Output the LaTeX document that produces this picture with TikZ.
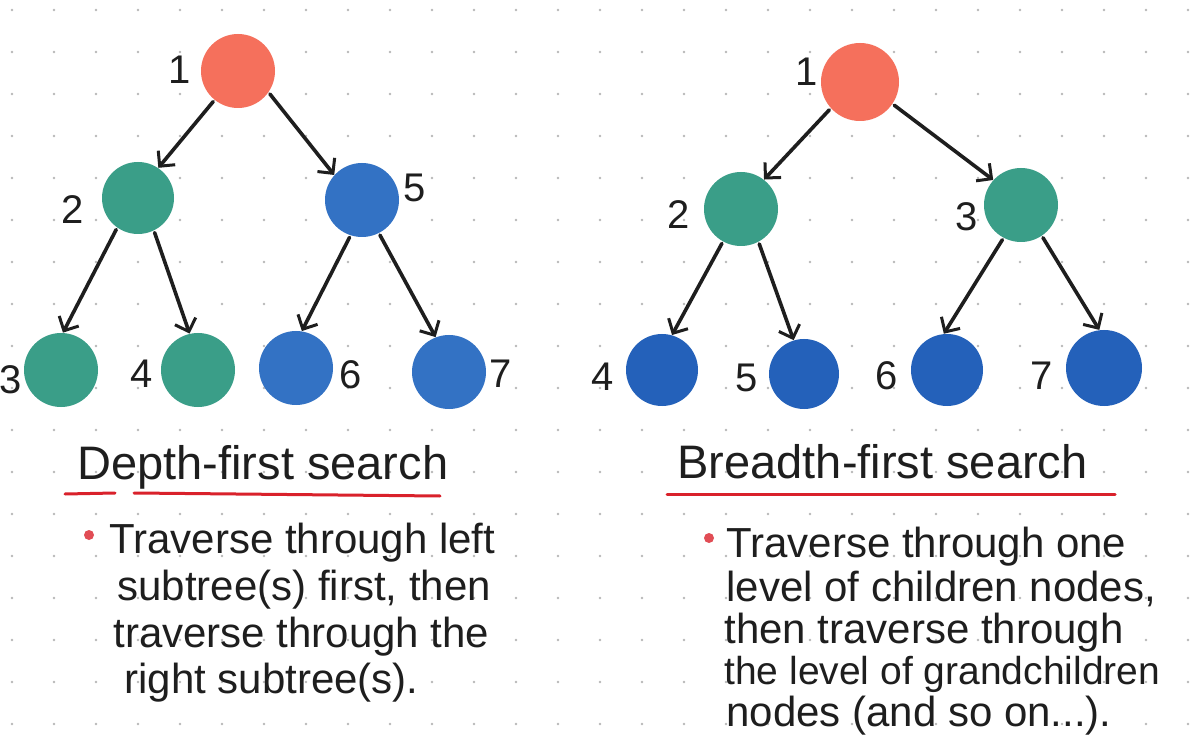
\documentclass[tikz,border=0pt]{standalone}
\usepackage{fontspec}
\setmainfont{Liberation Sans}
\usetikzlibrary{arrows.meta}
\definecolor{nred}{HTML}{F5705C}
\definecolor{ngreen}{HTML}{3A9E88}
\definecolor{nblue}{HTML}{3372C4}
\definecolor{nbluedk}{HTML}{2461BA}
\definecolor{ulred}{HTML}{D9212B}
\definecolor{gdot}{HTML}{B8B8B8}
\definecolor{ink}{HTML}{1E1E1E}
\begin{document}
\begin{tikzpicture}[x=0.5pt,y=-0.5pt,
  tnode/.style={circle,inner sep=0pt,minimum size=36pt},
  rednode/.style={tnode,fill=nred},
  greennode/.style={tnode,fill=ngreen},
  bluenode/.style={tnode,fill=nblue},
  bluedk/.style={tnode,fill=nbluedk},
  num/.style={font=\fontsize{20}{20}\selectfont,inner sep=0pt,text=ink},
  arr/.style={draw=ink,line width=1.8pt,line cap=round,-{Straight Barb[length=5.5pt,width=11pt,line width=1.5pt]},shorten <=1pt},
  body/.style={anchor=base west,inner sep=0pt,font=\fontsize{21}{21}\selectfont,text=ink},
  titlet/.style={anchor=base west,inner sep=0pt,font=\fontsize{23.5}{23.5}\selectfont,text=ink},
  uline/.style={draw=ulred,line width=1.5pt,line cap=round},
  bullet/.style={circle,fill=ulred!80!white,inner sep=0pt,minimum size=5pt}
]
\fill[white] (0,0) rectangle (1200,754);
\useasboundingbox (0,0) rectangle (1200,754);
% dot grid
\foreach \i in {0,...,28}{\foreach \j in {0,...,17}{\fill[gdot] (12+42*\i,10+42*\j) circle (0.7pt);}}

% ---------- Depth-first tree ----------
\node[rednode,minimum size=37pt] (L1) at (238,71) {};
\node[greennode] (L2) at (138,198) {};
\node[bluenode,minimum size=37pt] (L5) at (362,200) {};
\node[greennode,minimum size=37pt] (L3) at (61,370) {};
\node[greennode,minimum size=37pt] (L4) at (198,370) {};
\node[bluenode,minimum size=37pt] (L6) at (296,368) {};
\node[bluenode,minimum size=37pt] (L7) at (449,372) {};

\node[num] (tL1) at (180,70) {1};
\node[num] (tL2) at (73,210) {2};
\node[num] (tL5) at (415,188) {5};
\node[num] (tL3) at (11,380) {3};
\node[num] (tL4) at (142,374) {4};
\node[num] (tL6) at (351,375) {6};
\node[num] (tL7) at (501,374) {7};

\draw[arr] (L1.-129) -- (L2.56);
\draw[arr] (L1.-35) -- (L5.138);
\draw[arr] (L2.-125) -- (L3.87);
\draw[arr] (L2.-64) -- (L4.103);
\draw[arr] (L5.-108) -- (L6.81);
\draw[arr] (L5.-63) -- (L7.111);

% ---------- Breadth-first tree ----------
\node[rednode,minimum size=39pt] (R1) at (860,82) {};
\node[greennode,minimum size=37pt] (R2) at (741,209) {};
\node[greennode,minimum size=37pt] (R3) at (1021,205) {};
\node[bluedk,minimum size=36pt] (R4) at (662,370) {};
\node[bluedk,minimum size=35pt] (R5) at (804,374) {};
\node[bluedk,minimum size=36pt] (R6) at (947,370) {};
\node[bluedk,minimum size=38pt] (R7) at (1104,368) {};

\node[num] (tR1) at (807,72) {1};
\node[num] (tR2) at (679,215) {2};
\node[num] (tR3) at (967,217) {3};
\node[num] (tR4) at (603,377) {4};
\node[num] (tR5) at (747,378) {5};
\node[num] (tR6) at (887,376) {6};
\node[num] (tR7) at (1042,376) {7};

\draw[arr] (R1.-138) -- (R2.52);
\draw[arr] (R1.-34) -- (R3.138);
\draw[arr] (R2.-119) -- (R4.74);
\draw[arr] (R2.-62) -- (R5.107);
\draw[arr] (R3.-118) -- (R6.95);
\draw[arr] (R3.-56) -- (R7.97);

% ---------- Depth-first text ----------
\node[titlet] (dfsT) at (77,480) {Depth-first search};
\draw[uline] (65,494) -- (115,493);
\draw[uline] (134,493) -- (440,496);
\node[bullet] (dfsB) at (89,535) {};
\node[body] (d1) at (109,553) {Traverse through left};
\node[body] (d2) at (117,600) {subtree(s) first, then};
\node[body] (d3) at (113,647) {traverse through the};
\node[body] (d4) at (124,693) {right subtree(s).};

% ---------- Breadth-first text ----------
\node[titlet] (bfsT) at (677,478) {Breadth-first search};
\draw[uline] (667,494) -- (1115,494);
\node[bullet] (bfsB) at (709,538) {};
\node[body] (b1) at (726,557) {Traverse through one};
\node[body] (b2) at (726,601) {level of children nodes,};
\node[body] (b3) at (724,643) {then traverse through};
\node[body,font=\fontsize{19.5}{19.5}\selectfont] (b4) at (724,684) {the level of grandchildren};
\node[body] (b5) at (726,726) {nodes (and so on...).};
\end{tikzpicture}
\end{document}
